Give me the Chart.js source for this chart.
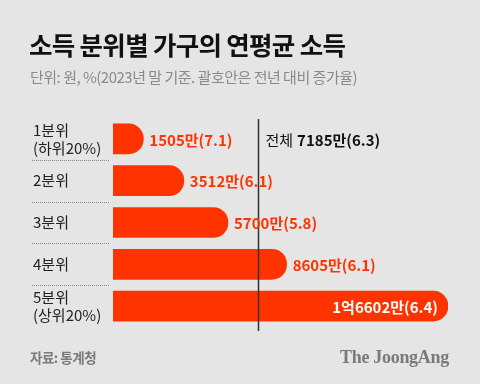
<!DOCTYPE html>
<html>
<head>
<meta charset="utf-8">
<script src="https://cdn.jsdelivr.net/npm/chart.js@4/dist/chart.umd.min.js"></script>
<style>
  html, body { margin:0; padding:0; }
  body { width:480px; height:384px; background:#e5e5e5; position:relative; overflow:hidden; font-family:"Noto Sans CJK KR", "Noto Sans", sans-serif; }
  #c { position:absolute; left:0; top:0; }
  .t { position:absolute; white-space:nowrap; }
  #title { left:29px; top:27px; font-size:25.5px; font-weight:700; color:#111; letter-spacing:-0.7px; line-height:34px; }
  #sub { left:30px; top:67px; font-size:15px; color:#8a8a8a; letter-spacing:-0.5px; line-height:20px; }
  #src { left:30px; top:347px; font-size:13.5px; font-weight:700; color:#7a7a7a; letter-spacing:-0.5px; line-height:20px; }
  #logo { left:340px; top:345px; font-family:"Liberation Serif", serif; font-size:18px; font-weight:700; color:#7a7a7a; letter-spacing:-0.3px; line-height:24px; }
</style>
</head>
<body>
<canvas id="c" width="480" height="384"></canvas>
<div class="t" id="title">소득 분위별 가구의 연평균 소득</div>
<div class="t" id="sub">단위: 원, %(2023년 말 기준. 괄호안은 전년 대비 증가율)</div>
<div class="t" id="src">자료: 통계청</div>
<div class="t" id="logo">The JoongAng</div>
<script>
const categories = [['1분위','(하위20%)'], ['2분위'], ['3분위'], ['4분위'], ['5분위','(상위20%)']];
const incomes = [1505, 3512, 5700, 8605, 16602];
const growthRates = [7.1, 6.1, 5.8, 6.1, 6.4];
const valueLabels = ['1505만(7.1)', '3512만(6.1)', '5700만(5.8)', '8605만(6.1)', '1억6602만(6.4)'];
const totalIncome = 7185;
const totalLabel = ['전체', '7185만(6.3)'];

const RED = '#ff3300';
const KFONT = '"Noto Sans CJK KR", "Noto Sans", sans-serif';

const overlay = {
  id: 'overlay',
  afterDatasetsDraw(chart) {
    const ctx = chart.ctx;
    const x = chart.scales.x, y = chart.scales.y;
    const area = chart.chartArea;
    const meta = chart.getDatasetMeta(0);
    ctx.save();
    // separators
    ctx.strokeStyle = '#8c8c8c';
    ctx.lineWidth = 1;
    ctx.setLineDash([1, 1]);
    for (let i = 0; i < categories.length - 1; i++) {
      const yy = Math.round((y.getPixelForValue(i) + y.getPixelForValue(i + 1)) / 2) + 0.5;
      ctx.beginPath();
      ctx.moveTo(32, yy);
      ctx.lineTo(110, yy);
      ctx.stroke();
    }
    ctx.setLineDash([]);
    // category labels
    ctx.fillStyle = '#222';
    ctx.font = '15px ' + KFONT;
    ctx.textAlign = 'left';
    ctx.textBaseline = 'middle';
    categories.forEach((lines, i) => {
      const cy = y.getPixelForValue(i);
      if (lines.length === 1) {
        ctx.fillText(lines[0], 33, cy);
      } else {
        ctx.fillText(lines[0], 33, cy - 8.5);
        ctx.fillText(lines[1], 33, cy + 9.5);
      }
    });
    // total line
    const tx = Math.round(x.getPixelForValue(totalIncome)) + 0.5;
    ctx.strokeStyle = '#333';
    ctx.lineWidth = 1.5;
    ctx.beginPath();
    ctx.moveTo(tx, area.top + 1);
    ctx.lineTo(tx, area.bottom + 4);
    ctx.stroke();
    // value labels
    ctx.font = 'bold 15px ' + KFONT;
    meta.data.forEach((bar, i) => {
      const cy = bar.y + 1;
      if (i === incomes.length - 1) {
        ctx.fillStyle = '#ffffff';
        ctx.textAlign = 'right';
        ctx.fillText(valueLabels[i], bar.x - 10, cy);
      } else {
        ctx.fillStyle = RED;
        ctx.textAlign = 'left';
        ctx.fillText(valueLabels[i], bar.x + 6, cy);
      }
    });
    // total label
    const ty = y.getPixelForValue(0) + 1;
    ctx.fillStyle = '#111';
    ctx.textAlign = 'left';
    ctx.font = '15px ' + KFONT;
    ctx.fillText(totalLabel[0], tx + 7, ty);
    const w0 = ctx.measureText(totalLabel[0]).width;
    ctx.font = 'bold 15px ' + KFONT;
    ctx.fillText(totalLabel[1], tx + 7 + w0 + 4, ty);
    ctx.restore();
  }
};

new Chart(document.getElementById('c'), {
  type: 'bar',
  data: {
    labels: categories.map(l => l.join(' ')),
    datasets: [{
      data: incomes,
      backgroundColor: RED,
      barThickness: 30,
      borderRadius: { topLeft: 0, bottomLeft: 0, topRight: 15, bottomRight: 15 },
      borderSkipped: false
    }]
  },
  options: {
    indexAxis: 'y',
    responsive: false,
    animation: false,
    layout: { padding: { left: 113, right: 32, top: 118, bottom: 57 } },
    plugins: { legend: { display: false }, tooltip: { enabled: false } },
    scales: {
      x: { display: false, min: 0, max: 16602 },
      y: { display: false }
    }
  },
  plugins: [overlay]
});
</script>
</body>
</html>
